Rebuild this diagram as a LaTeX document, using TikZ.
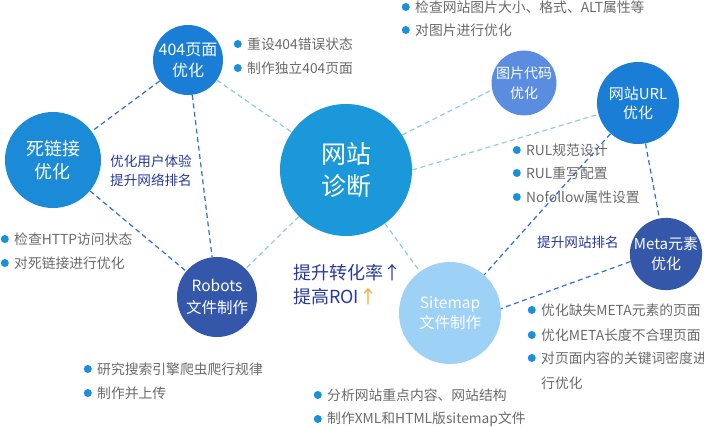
\documentclass[tikz,border=0pt]{standalone}
\usepackage{fontspec}
\setmainfont{Noto Sans CJK SC}
\usepackage{xcolor}
\definecolor{balldiag}{HTML}{1A98DA}
\definecolor{ballmid}{HTML}{1A7ED6}
\definecolor{balllink}{HTML}{1B8BD7}
\definecolor{ballimg}{HTML}{5A8DE0}
\definecolor{balldark}{HTML}{3457AA}
\definecolor{balllight}{HTML}{9DD1F6}
\definecolor{linkdark}{HTML}{2E6FD8}
\definecolor{linklight}{HTML}{8CCAF2}
\definecolor{dotblue}{HTML}{1A8FDA}
\definecolor{itemgray}{HTML}{6A6A6A}
\definecolor{navytext}{HTML}{27399C}
\definecolor{uparrow}{HTML}{F5A623}
\begin{document}
\begin{tikzpicture}[x=1pt,y=-1pt,
	ball/.style={circle,inner sep=0pt,text=white,align=center},
	darkdash/.style={draw=linkdark,dash pattern=on 5pt off 3.5pt,line width=1.2pt},
	lightdash/.style={draw=linklight,dash pattern=on 5pt off 3.5pt,line width=1.2pt},
	dot/.style={circle,fill=dotblue,inner sep=0pt,minimum size=8pt,xshift=-5pt},
	item/.style={anchor=west,inner sep=0pt,text=itemgray,font=\fontsize{13.8}{16}\selectfont,label={[dot]left:{}}},
	note/.style={anchor=west,inner sep=0pt,text=navytext,align=left}]
						\useasboundingbox (0,0) rectangle (704,427);
						\clip (0,0) rectangle (704,427);
						\node[ball,fill=balldiag,minimum size=132pt,font=\fontsize{25}{32}\selectfont] (diag) at (346,170) {网站\\诊断};
						\node[ball,fill=ballmid,minimum size=70pt,font=\fontsize{16}{21}\selectfont] (page404) at (188,60) {404页面\\优化};
						\node[ball,fill=balllink,minimum size=96pt,font=\fontsize{18}{23}\selectfont] (deadlink) at (53,160) {死链接\\优化};
						\node[ball,fill=ballimg,minimum size=64pt,font=\fontsize{14}{20}\selectfont] (imgcode) at (524,83) {图片代码\\优化};
						\node[ball,fill=ballmid,minimum size=82pt,font=\fontsize{15}{19}\selectfont] (url) at (638,103) {网站URL\\优化};
						\node[ball,fill=balldark,minimum size=72pt,font=\fontsize{15}{20}\selectfont] (meta) at (666,254) {Meta元素\\优化};
						\node[ball,fill=balldark,minimum size=80pt,font=\fontsize{15.5}{22}\selectfont] (robots) at (217,297) {Robots\\文件制作};
						\node[ball,fill=balllight,minimum size=102pt,font=\fontsize{15.5}{20}\selectfont] (sitemap) at (450,313) {Sitemap\\文件制作};
						\draw[darkdash] (page404) -- (deadlink);
						\draw[darkdash] (page404) -- (robots);
						\draw[darkdash] (deadlink) -- (robots);
						\draw[lightdash] (page404) -- (diag);
						\draw[lightdash] (diag.32) -- (imgcode.192);
						\draw[lightdash] (diag.0) -- (url.196);
						\draw[lightdash] (diag) -- (robots);
						\draw[lightdash] (diag) -- (sitemap);
						\draw[darkdash] (url) -- (meta);
						\draw[darkdash] (url) -- (sitemap);
						\draw[darkdash] (meta.192) -- (sitemap.5);
						\node[item] (p404a) at (247,44) {重设404错误状态};
						\node[item] (p404b) at (247,68) {制作独立404页面};
						\node[item] (imga) at (415,7) {检查网站图片大小、格式、ALT属性等};
						\node[item] (imgb) at (415,30) {对图片进行优化};
						\node[item] (urla) at (526,150) {RUL规范设计};
						\node[item] (urlb) at (526,173) {RUL重写配置};
						\node[item] (urlc) at (526,197) {Nofollow属性设置};
						\node[item] (linka) at (14,239) {检查HTTP访问状态};
						\node[item] (linkb) at (14,263) {对死链接进行优化};
						\node[item] (robota) at (97,369) {研究搜索引擎爬虫爬行规律};
						\node[item] (robotb) at (97,393) {制作并上传};
						\node[item] (sitea) at (327,395) {分析网站重点内容、网站结构};
						\node[item] (siteb) at (327,419) {制作XML和HTML版sitemap文件};
						\node[item] (metaa) at (541,310) {优化缺失META元素的页面};
						\node[item] (metab) at (541,335) {优化META长度不合理页面};
						\node[item] (metac) at (541,358) {对页面内容的关键词密度进};
						\node[anchor=west,inner sep=0pt,text=itemgray,font=\fontsize{13.8}{16}\selectfont] (metad) at (541,383) {行优化};
						\node[note,font=\fontsize{13.6}{18.5}\selectfont] (ux) at (110,171) {优化用户体验\\提升网络排名};
						\node[note,font=\fontsize{13.6}{16}\selectfont] (rank) at (537,242) {提升网站排名};
						\node[note,font=\fontsize{18}{24}\selectfont] (roi) at (293,285) {提升转化率↑\\提高ROI\textcolor{uparrow}{↑}};
					\end{tikzpicture}
\end{document}
